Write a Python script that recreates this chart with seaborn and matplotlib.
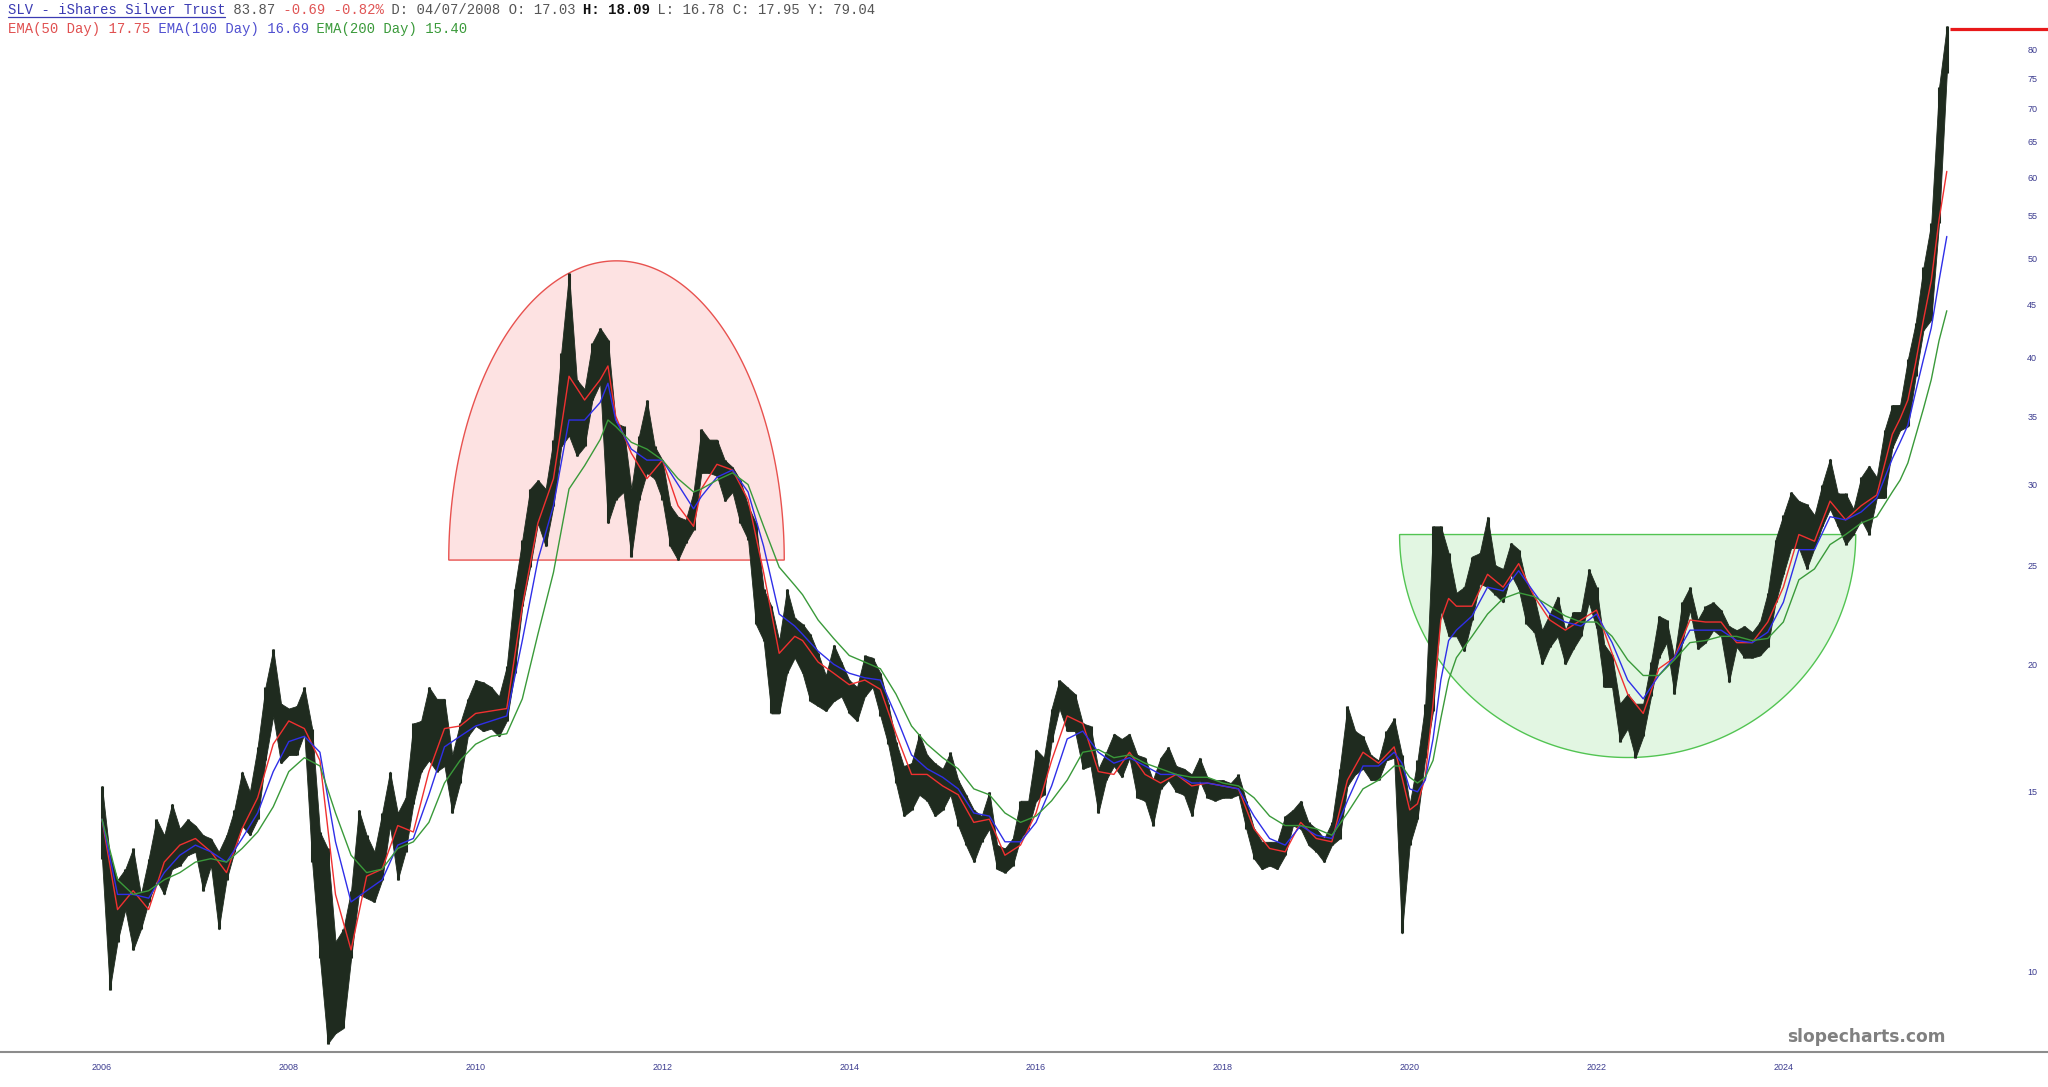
import numpy as np
import pandas as pd
import matplotlib
matplotlib.use("Agg")
import matplotlib.pyplot as plt
from matplotlib.lines import Line2D
from matplotlib.ticker import FixedLocator, NullLocator, NullFormatter
import seaborn as sns

# ---------------- data (monthly ranges) ----------------
month_high = [
    15.2, 13.0, 12.3, 12.6, 13.2, 11.9, 12.9, 14.1, 13.6, 14.6,
    13.8, 14.1, 13.9, 13.6, 13.5, 13.1, 13.6, 14.4, 15.7, 15.0,
    16.6, 19.0, 20.7, 18.3, 18.1, 18.2, 19.0, 17.3, 13.7, 13.2,
    10.7, 11.0, 12.0, 14.4, 13.6, 13.1, 14.3, 15.7, 14.3, 14.8,
    17.5, 17.6, 19.0, 18.5, 18.5, 16.3, 17.5, 18.5, 19.3, 19.2,
    19.0, 18.6, 19.9, 23.7, 26.5, 29.7, 30.3, 29.7, 33.2, 40.4,
    48.3, 38.0, 37.2, 41.3, 42.7, 41.6, 34.5, 34.2, 29.7, 33.5,
    36.3, 32.7, 31.7, 28.6, 27.9, 27.7, 29.5, 34.0, 33.2, 33.2,
    31.7, 31.2, 30.3, 28.6, 27.5, 23.7, 22.8, 21.1, 23.7, 22.2,
    21.9, 21.4, 20.5, 19.5, 20.9, 20.1, 19.3, 19.0, 20.4, 20.3,
    19.6, 18.3, 16.8, 15.9, 16.0, 17.1, 16.3, 16.0, 15.8, 16.4,
    15.4, 14.9, 14.4, 14.2, 15.0, 13.3, 13.2, 13.5, 14.7, 14.7,
    16.5, 16.2, 18.1, 19.3, 19.0, 18.7, 17.5, 17.4, 15.8, 16.4,
    17.1, 16.9, 17.1, 16.3, 16.2, 15.4, 16.2, 16.6, 15.9, 15.8,
    15.6, 16.2, 15.5, 15.4, 15.4, 15.3, 15.6, 14.7, 13.8, 13.4,
    13.4, 13.4, 14.2, 14.4, 14.7, 14.0, 13.8, 13.5, 14.0, 15.8,
    18.2, 17.2, 17.0, 16.3, 16.1, 17.2, 17.7, 16.3, 14.6, 16.1,
    18.3, 27.3, 27.3, 25.7, 23.5, 23.8, 25.5, 25.7, 27.9, 25.0,
    24.8, 26.3, 25.9, 24.0, 23.3, 21.6, 22.4, 23.3, 21.6, 22.5,
    22.5, 24.8, 23.8, 20.9, 20.4, 18.3, 18.7, 18.3, 18.3, 20.1,
    22.3, 22.1, 20.3, 23.0, 23.8, 22.1, 22.8, 23.0, 22.6, 21.8,
    21.6, 21.8, 21.5, 22.0, 23.5, 26.5, 28.0, 29.5, 28.9, 28.7,
    28.0, 30.0, 31.8, 29.4, 29.4, 28.4, 30.5, 31.3, 30.5, 33.9,
    35.9, 35.9, 39.8, 43.2, 49.0, 54.1, 73.5, 84.4,
]
month_low = [
    12.9, 9.6, 10.7, 11.5, 10.5, 11.0, 11.7, 12.3, 11.9, 12.6,
    12.7, 13.0, 13.1, 12.0, 12.7, 11.0, 12.3, 13.1, 13.9, 13.6,
    14.1, 16.1, 17.8, 16.0, 16.3, 16.3, 17.1, 12.8, 10.3, 8.5,
    8.7, 8.8, 10.3, 11.9, 11.8, 11.7, 12.3, 13.9, 12.3, 13.1,
    14.6, 15.7, 16.1, 15.7, 15.9, 14.3, 15.3, 17.0, 17.4, 17.2,
    17.3, 17.0, 17.6, 19.6, 22.8, 24.9, 27.5, 26.1, 28.6, 32.7,
    33.5, 32.0, 32.7, 36.3, 37.7, 27.5, 29.0, 29.5, 25.5, 29.0,
    30.8, 30.4, 29.0, 26.1, 25.3, 26.3, 27.1, 30.8, 30.8, 30.6,
    28.9, 29.5, 27.5, 26.5, 21.9, 21.1, 17.9, 17.9, 19.6, 20.3,
    19.6, 18.4, 18.2, 18.0, 18.4, 18.6, 17.9, 17.6, 18.6, 19.0,
    17.8, 16.7, 15.3, 14.2, 14.4, 14.9, 14.7, 14.2, 14.4, 14.9,
    13.9, 13.3, 12.8, 13.4, 13.8, 12.6, 12.5, 12.7, 13.5, 13.8,
    14.7, 14.9, 16.8, 18.1, 17.2, 17.2, 15.8, 15.9, 14.3, 15.4,
    15.9, 15.5, 16.2, 14.8, 14.7, 13.9, 15.1, 15.4, 15.0, 14.9,
    14.2, 15.4, 14.8, 14.7, 14.8, 14.8, 14.9, 13.8, 12.9, 12.6,
    12.7, 12.6, 13.0, 13.9, 13.8, 13.3, 13.1, 12.8, 13.3, 13.5,
    15.2, 15.6, 15.8, 15.4, 15.4, 16.1, 16.2, 10.9, 13.3, 14.1,
    16.2, 18.0, 22.6, 21.3, 21.3, 20.6, 22.1, 24.0, 23.8, 23.4,
    23.0, 24.5, 23.7, 21.9, 21.5, 20.0, 20.8, 21.3, 20.0, 20.7,
    21.3, 23.0, 21.7, 19.0, 19.0, 16.8, 17.3, 16.2, 17.0, 18.6,
    20.3, 21.0, 18.7, 21.0, 22.6, 20.7, 21.0, 21.6, 21.3, 19.2,
    20.8, 20.3, 20.3, 20.4, 20.8, 23.0, 24.5, 26.0, 26.0, 24.8,
    26.0, 27.3, 28.4, 27.3, 26.2, 26.8, 27.7, 26.8, 29.1, 29.1,
    32.6, 33.9, 34.2, 38.3, 42.5, 43.5, 54.1, 75.9,
]

ema_month = [0, 2, 4, 6, 8, 10, 12, 14, 16, 18, 20, 22, 24, 26, 28, 30, 32, 34,
             36, 38, 40, 42, 44, 46, 48, 50, 52, 54, 56, 58, 60, 62, 64, 65, 66,
             68, 70, 72, 74, 76, 77, 79, 81, 83, 85, 87, 89, 90, 92, 94, 96, 98,
             100, 102, 104, 106, 108, 110, 112, 114, 116, 118, 120, 122, 124,
             126, 128, 130, 132, 134, 136, 138, 140, 142, 144, 146, 148, 150,
             152, 154, 156, 158, 160, 162, 164, 166, 167, 168, 169, 170, 171,
             172, 173, 174, 176, 178, 180, 182, 184, 186, 188, 190, 192, 194,
             196, 198, 200, 202, 204, 206, 208, 210, 212, 214, 216, 218, 220,
             222, 224, 226, 228, 230, 231, 232, 233, 234, 235, 236, 237]
ema50 = [14.1, 11.5, 12.0, 11.5, 12.8, 13.3, 13.5, 13.1, 12.5, 13.8, 14.8, 16.7,
         17.6, 17.3, 16.1, 11.9, 10.5, 12.4, 12.6, 13.9, 13.7, 15.7, 17.3, 17.4,
         17.9, 18.0, 18.1, 22.8, 27.5, 30.4, 38.3, 36.3, 38.0, 39.2, 35.0, 32.2,
         30.4, 31.7, 28.6, 27.3, 29.7, 31.4, 31.0, 29.0, 24.6, 20.5, 21.3, 21.1,
         20.1, 19.6, 19.1, 19.3, 18.9, 17.1, 15.6, 15.6, 15.2, 14.9, 14.0, 14.1,
         13.0, 13.3, 14.3, 16.1, 17.8, 17.5, 15.7, 15.6, 16.4, 15.6, 15.3, 15.6,
         15.2, 15.3, 15.2, 15.1, 13.8, 13.2, 13.1, 14.0, 13.5, 13.4, 15.4, 16.4,
         16.0, 16.6, 15.5, 14.4, 14.6, 15.5, 18.3, 22.1, 23.2, 22.8, 22.8, 24.5,
         23.8, 25.1, 23.3, 22.1, 21.6, 22.1, 22.6, 20.5, 18.7, 17.9, 19.8, 20.3,
         22.1, 22.0, 22.0, 21.0, 21.0, 22.0, 23.8, 26.8, 26.4, 28.9, 27.7, 28.6,
         29.3, 33.6, 34.8, 36.3, 39.5, 43.5, 47.5, 54.5, 60.8]
ema100 = [14.1, 11.9, 11.9, 11.8, 12.5, 13.0, 13.3, 13.1, 12.8, 13.5, 14.3, 15.7,
          16.8, 17.0, 16.4, 13.4, 11.7, 12.0, 12.3, 13.3, 13.5, 14.9, 16.6, 17.0,
          17.4, 17.6, 17.8, 21.1, 25.3, 28.6, 34.7, 34.7, 36.1, 37.7, 34.7, 32.5,
          31.7, 31.7, 30.0, 28.4, 29.2, 30.5, 31.0, 29.5, 26.1, 22.4, 21.8, 21.4,
          20.6, 20.0, 19.6, 19.4, 19.3, 17.8, 16.3, 15.8, 15.5, 15.1, 14.3, 14.2,
          13.4, 13.4, 14.0, 15.2, 16.9, 17.2, 16.4, 16.0, 16.2, 15.9, 15.6, 15.6,
          15.3, 15.3, 15.2, 15.1, 14.2, 13.5, 13.3, 13.9, 13.6, 13.5, 14.7, 15.9,
          15.9, 16.4, 16.0, 15.1, 15.0, 15.4, 16.9, 19.3, 21.1, 21.6, 22.3, 23.8,
          23.6, 24.7, 23.5, 22.4, 22.0, 21.8, 22.4, 21.0, 19.3, 18.5, 19.5, 20.3,
          21.6, 21.6, 21.6, 21.1, 21.0, 21.5, 23.0, 25.9, 25.9, 27.9, 27.7, 28.2,
          29.1, 31.8, 33.0, 34.3, 37.0, 39.8, 42.7, 47.5, 52.5]
ema200 = [14.1, 12.3, 11.9, 12.0, 12.3, 12.5, 12.8, 12.9, 12.8, 13.2, 13.7, 14.5,
          15.7, 16.2, 15.9, 14.3, 13.0, 12.5, 12.6, 13.2, 13.4, 14.0, 15.3, 16.1,
          16.7, 17.0, 17.1, 18.5, 21.4, 24.6, 29.7, 31.3, 33.2, 34.7, 34.2, 33.0,
          32.5, 31.7, 30.4, 29.5, 29.7, 30.3, 30.8, 30.0, 27.3, 24.9, 23.9, 23.4,
          22.1, 21.2, 20.4, 20.1, 19.8, 18.7, 17.4, 16.7, 16.2, 15.8, 15.1, 14.9,
          14.3, 14.0, 14.2, 14.7, 15.4, 16.4, 16.5, 16.2, 16.3, 16.0, 15.8, 15.6,
          15.5, 15.5, 15.3, 15.2, 14.8, 14.2, 13.9, 13.9, 13.8, 13.6, 14.3, 15.1,
          15.4, 15.9, 15.9, 15.5, 15.3, 15.5, 16.1, 17.7, 19.3, 20.3, 21.3, 22.4,
          23.2, 23.5, 23.3, 22.8, 22.3, 22.0, 22.0, 21.3, 20.2, 19.5, 19.5, 20.2,
          21.0, 21.1, 21.3, 21.3, 21.1, 21.2, 22.0, 24.2, 24.8, 26.2, 26.8, 27.5,
          27.9, 29.5, 30.3, 31.5, 33.5, 35.6, 38.0, 41.5, 44.4]

year_labels = ["2006", "2008", "2010", "2012", "2014", "2016", "2018", "2020", "2022", "2024"]
year_tick_month = [0, 24, 48, 72, 96, 120, 144, 168, 192, 216]
price_ticks = [10, 15, 20, 25, 30, 35, 40, 45, 50, 55, 60, 65, 70, 75, 80]
last_price = 83.87

# annotation shapes (top dome and bottom bowl)
dome_center, dome_half_width, dome_base, dome_rise = 66.1, 21.55, 25.3, 0.675
bowl_center, bowl_half_width, bowl_top, bowl_drop = 196.0, 29.3, 26.8, 0.503

# ---------------- figure ----------------
sns.set_theme(style="white")
W, H = 2048, 1087
fig = plt.figure(figsize=(W / 100, H / 100), dpi=100, facecolor="white")
ax = fig.add_axes([0, (H - 1052) / H, 1, 1052 / H])
ax.set_facecolor("white")
ax.set_yscale("log")

theta = np.linspace(0, np.pi, 240)
ax.fill(dome_center + dome_half_width * np.cos(theta),
        dome_base * np.exp(dome_rise * np.sin(theta)),
        facecolor="#fde2e2", edgecolor="#e8524f", linewidth=1.0, zorder=1)
ax.fill(bowl_center + bowl_half_width * np.cos(theta),
        bowl_top * np.exp(-bowl_drop * np.sin(theta)),
        facecolor="#e2f6e2", edgecolor="#52c452", linewidth=1.0, zorder=1)

months = np.arange(len(month_high))
hi = np.array(month_high)
lo = np.array(month_low)
bar_color = "#1f2b1f"
# price range band plus one range bar per month
ax.fill_between(months, lo, hi, color=bar_color, linewidth=0.6,
                edgecolor=bar_color, zorder=2)
ax.vlines(months, lo, hi, color=bar_color, linewidth=2.2, zorder=2)

ema_df = pd.DataFrame({
    "month": ema_month * 3,
    "value": ema50 + ema100 + ema200,
    "series": (["EMA50"] * len(ema_month) + ["EMA100"] * len(ema_month)
               + ["EMA200"] * len(ema_month)),
})
sns.lineplot(data=ema_df, x="month", y="value", hue="series",
             palette={"EMA50": "#f03030", "EMA100": "#2f2fe8", "EMA200": "#3a9a3a"},
             estimator=None, sort=False, legend=False, linewidth=1.0, ax=ax, zorder=3)

ax.hlines(last_price, months[-1] + 0.4, 251, color="#e8191a", linewidth=2.3, zorder=4)

ax.set_xlim(-13.1, 250.0)
ax.set_ylim(8.34, 89.5)

ax.yaxis.set_major_locator(FixedLocator(price_ticks))
ax.yaxis.set_minor_locator(NullLocator())
ax.yaxis.set_minor_formatter(NullFormatter())
ax.set_yticklabels([str(t) for t in price_ticks])
ax.yaxis.tick_right()
ax.tick_params(axis="y", length=0, pad=-15, labelsize=6.5, labelcolor="#3b3b8f")
ax.set_xticks(year_tick_month)
ax.set_xticklabels(year_labels)
ax.tick_params(axis="x", length=0, pad=8, labelsize=6.5, labelcolor="#3b3b8f")
for lab in ax.get_xticklabels() + ax.get_yticklabels():
    lab.set_fontfamily("Liberation Sans")
for s in ["top", "left", "right"]:
    ax.spines[s].set_visible(False)
ax.spines["bottom"].set_color("#8c8c8c")
ax.spines["bottom"].set_linewidth(1.5)
ax.grid(False)
ax.set_xlabel("")
ax.set_ylabel("")

# ---------------- header ----------------
CW = 8.33
X0 = 8


def put(ci, ypx, text, color, weight="normal"):
    fig.text((X0 + CW * ci) / W, 1 - ypx / H, text, color=color, fontsize=10,
             family="Liberation Mono", fontweight=weight, ha="left", va="center")


row1 = [
    ("SLV - iShares Silver Trust", "#3b3bb3", "normal"),
    (" 83.87", "#555555", "normal"),
    (" -0.69 -0.82%", "#e05555", "normal"),
    (" D: 04/07/2008 O: 17.03 ", "#555555", "normal"),
    ("H: 18.09", "#111111", "bold"),
    (" L: 16.78 C: 17.95 Y: 79.04", "#555555", "normal"),
]
ci = 0
for txt, col, wt in row1:
    put(ci, 10, txt, col, wt)
    ci += len(txt)
fig.add_artist(Line2D([X0 / W, (X0 + CW * 26) / W], [1 - 17 / H, 1 - 17 / H],
                      color="#3b3bb3", linewidth=0.9))

row2 = [
    ("EMA(50 Day) 17.75", "#e05050"),
    (" EMA(100 Day) 16.69", "#5050d0"),
    (" EMA(200 Day) 15.40", "#3a9a3a"),
]
ci = 0
for txt, col in row2:
    put(ci, 29, txt, col)
    ci += len(txt)

fig.text(1866 / W, 1 - 1037 / H, "slopecharts.com", ha="center", va="center",
         fontsize=12.3, fontweight="bold", color="#808080", family="DejaVu Sans")

fig.savefig("out.png", dpi=100, facecolor="white")
